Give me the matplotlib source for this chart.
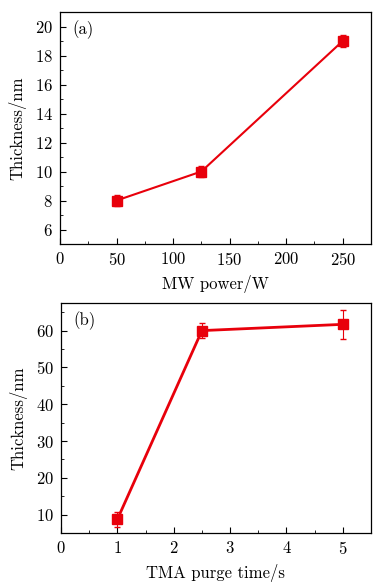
import matplotlib
matplotlib.use("Agg")
import matplotlib.pyplot as plt
from matplotlib.ticker import MultipleLocator

plt.rcParams['font.family'] = ['cmr10', 'DejaVu Serif']
plt.rcParams['axes.formatter.use_mathtext'] = True
plt.rcParams['mathtext.fontset'] = 'cm'

power = [50, 125, 250]
thick_a = [8.0, 10.0, 19.0]
err_a = [0.4, 0.4, 0.4]

purge = [1, 2.5, 5]
thick_b = [8.7, 60.0, 61.7]
err_b = [2.0, 2.0, 4.0]

fig = plt.figure(figsize=(3.75, 5.85), dpi=100)
W, H = 375, 585
ax1 = fig.add_axes([60/W, 1-244/H, 311/W, 232/H])
ax2 = fig.add_axes([61/W, 1-533/H, 310/W, 230/H])

red = '#e8000b'
ax1.errorbar(power, thick_a, yerr=err_a, color=red, lw=1.5, marker='s', ms=7.5,
             ecolor=red, elinewidth=0.8, capsize=2)
ax2.errorbar(purge, thick_b, yerr=err_b, color=red, lw=2.0, marker='s', ms=7.5,
             ecolor=red, elinewidth=0.8, capsize=2)

ax1.set_xlim(0, 275)
ax1.set_ylim(5, 21)
ax1.xaxis.set_major_locator(MultipleLocator(50))
ax1.xaxis.set_minor_locator(MultipleLocator(25))
ax1.yaxis.set_major_locator(MultipleLocator(2))
ax1.yaxis.set_minor_locator(MultipleLocator(1))
ax1.set_xlabel('MW power/W', fontsize=12)
ax1.set_ylabel('Thickness/nm', fontsize=12)
ax1.text(0.04, 0.965, '(a)', transform=ax1.transAxes, fontsize=12, va='top', ha='left')

ax2.set_xlim(0, 5.5)
ax2.set_ylim(5, 67.5)
ax2.xaxis.set_major_locator(MultipleLocator(1))
ax2.xaxis.set_minor_locator(MultipleLocator(0.5))
ax2.yaxis.set_major_locator(MultipleLocator(10))
ax2.yaxis.set_minor_locator(MultipleLocator(5))
ax2.set_xlabel('TMA purge time/s', fontsize=12)
ax2.set_ylabel('Thickness/nm', fontsize=12)
ax2.text(0.04, 0.965, '(b)', transform=ax2.transAxes, fontsize=12, va='top', ha='left')

for ax in (ax1, ax2):
    ax.tick_params(which='both', direction='in', top=False, right=False, labelsize=12)
    ax.tick_params(which='major', length=4, width=0.8, pad=5)
    ax.tick_params(which='minor', length=2, width=0.6)
    for s in ax.spines.values():
        s.set_linewidth(0.9)
    ax.xaxis.labelpad = 5
    ax.yaxis.labelpad = 6

fig.savefig('out.png', dpi=100)
